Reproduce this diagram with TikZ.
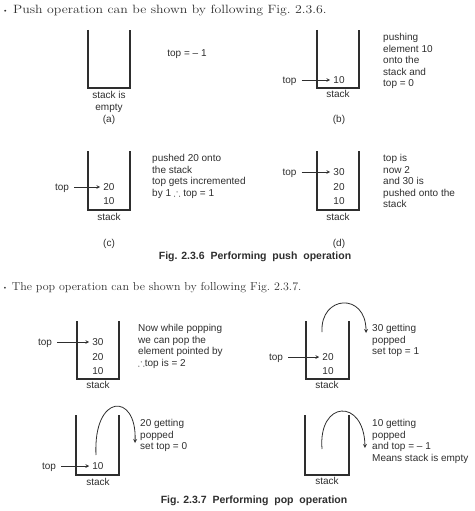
\documentclass[tikz,border=0pt]{standalone}
\usepackage{amssymb}
\usepackage{fontspec}
\newfontfamily\labelfont{Liberation Sans}
\usetikzlibrary{arrows}
\colorlet{inkc}{black!82}
\newcommand{\smallbul}{\raisebox{1.2pt}{\fontsize{6}{6}\selectfont\textbullet}}

\begin{document}
\begin{tikzpicture}[x=1pt,y=-1pt,
  wall/.style={draw=inkc,line width=1.3pt},
  lbl/.style={inner sep=0pt,text height=7.2pt,text depth=0pt,text=inkc,font=\labelfont\fontsize{10}{11.5}\selectfont},
  note/.style={inner sep=0pt,anchor=north west,align=left,text=inkc,font=\labelfont\fontsize{10}{11.5}\selectfont},
  ptr/.style={-stealth,draw=inkc,line width=0.7pt,shorten <=5pt,shorten >=3pt},
  popc/.style={-stealth,draw=inkc,line width=0.8pt},
  body/.style={inner sep=0pt,anchor=base west,text=inkc},
  capt/.style={inner sep=0pt,text=inkc,font=\labelfont\bfseries\fontsize{10.5}{12}\selectfont}]
\useasboundingbox (0,0) rectangle (474,511);

% push operation
\node[body,font=\fontsize{12}{14}\selectfont] (pushtxt) at (2,13.5) {\scalebox{1.15}[1]{\smallbul\ Push operation can be shown by following Fig.~2.3.6.}};

\draw[wall] (88,30) -- (88,88) -- (130,88) -- (130,30);
\node[lbl] (topa) at (187,53) {top = \textendash\ 1};
\node[note,anchor=north,align=center] (stka) at (109,91.3) {stack is\\empty};
\node[lbl] (capa) at (109,119) {(a)};

\draw[wall] (317,30) -- (317,88) -- (359,88) -- (359,30);
\node[lbl] (b10) at (339,80) {10};
\node[lbl] (topb) at (289.5,80) {top};
\draw[ptr] (topb) -- (b10);
\node[lbl] (stkb) at (338,94) {stack};
\node[lbl] (capb) at (339,119) {(b)};
\node[note] (txtb) at (383,33.3) {pushing\\element 10\\onto the\\stack and\\top = 0};

\draw[wall] (88,151) -- (88,210) -- (130,210) -- (130,151);
\node[lbl] (c20) at (109,187) {20};
\node[lbl] (c10) at (109,201) {10};
\node[lbl] (topc) at (62,187) {top};
\draw[ptr] (topc) -- (c20);
\node[lbl] (stkc) at (109,217) {stack};
\node[lbl] (capc) at (109,243) {(c)};
\node[note] (txtc) at (152,154.3) {pushed 20 onto\\the stack\\top gets incremented\\by 1 $\therefore$ top = 1};

\draw[wall] (317,151) -- (317,210) -- (359,210) -- (359,151);
\node[lbl] (d30) at (339,172) {30};
\node[lbl] (d20) at (339,187) {20};
\node[lbl] (d10) at (339,201) {10};
\node[lbl] (topd) at (289.5,172) {top};
\draw[ptr] (topd) -- (d30);
\node[lbl] (stkd) at (338,217) {stack};
\node[lbl] (capd) at (339,243) {(d)};
\node[note] (txtd) at (383,154.3) {top is\\now 2\\and 30 is\\pushed onto the\\stack};

\node[capt] (fig236) at (255,257) {Fig. 2.3.6 \ Performing \ push \ operation};

% pop operation
\node[body,font=\fontsize{11.5}{13}\selectfont] (poptxt) at (2,290.5) {\scalebox{1.04}[1]{\smallbul\ The pop operation can be shown by following Fig.~2.3.7.}};

\draw[wall] (77,321) -- (77,379) -- (119,379) -- (119,321);
\node[lbl] (e30) at (98,342) {30};
\node[lbl] (e20) at (98,357) {20};
\node[lbl] (e10) at (98,371) {10};
\node[lbl] (tope) at (45,342) {top};
\draw[ptr] (tope) -- (e30);
\node[lbl] (stke) at (98,385) {stack};
\node[note] (txte) at (138,324.3) {Now while popping\\we can pop the\\element pointed by\\$\therefore$top is = 2};

\draw[wall] (306,321) -- (306,379) -- (349,379) -- (349,321);
\node[lbl] (f20) at (328,357) {20};
\node[lbl] (f10) at (328,371) {10};
\node[lbl] (topf) at (276,357) {top};
\draw[ptr] (topf) -- (f20);
\node[lbl] (stkf) at (327,385) {stack};
\coordinate (fout) at (322,332);
\coordinate (fin) at (366,333);
\draw[popc] (fout) .. controls (320,295) and (366,292) .. (fin);
\node[note] (txtf) at (372,324.3) {30 getting\\popped\\set top = 1};

\draw[wall] (76,415) -- (76,475) -- (119,475) -- (119,415);
\node[lbl] (g10) at (98,466) {10};
\node[lbl] (topg) at (49,466) {top};
\draw[ptr] (topg) -- (g10);
\node[lbl] (stkg) at (98,482) {stack};
\coordinate (gout) at (96,455);
\coordinate (gin) at (135,443);
\draw[popc] (gout) .. controls (93,393) and (137,392) .. (gin);
\node[note] (txtg) at (140,419.3) {20 getting\\popped\\set top = 0};

\draw[wall] (305,415) -- (305,475) -- (349,475) -- (349,415);
\node[lbl] (stkh) at (327,481) {stack};
\coordinate (hout) at (322,449);
\coordinate (hin) at (365,448);
\draw[popc] (hout) .. controls (318,400) and (364,398) .. (hin);
\node[note] (txth) at (372,419.3) {10 getting\\popped\\and top = \textendash\ 1\\Means stack is empty};

\node[capt] (fig237) at (254,501) {Fig. 2.3.7 \ Performing \ pop \ operation};
\end{tikzpicture}
\end{document}
